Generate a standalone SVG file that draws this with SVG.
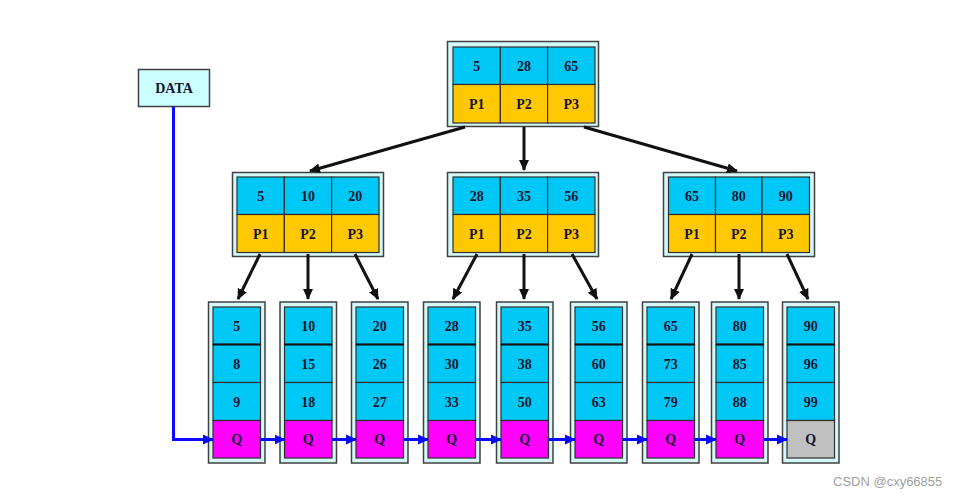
<svg xmlns="http://www.w3.org/2000/svg" width="960" height="498" viewBox="0 0 960 498">
<defs>
<style>
.outer{fill:#d4f8f8;stroke:#404040;stroke-width:1.5}
.k{fill:#00c8f6;stroke:#303030;stroke-width:1.2}
.p{fill:#ffc800;stroke:#303030;stroke-width:1.2}
.q{fill:#ff00ff;stroke:#303030;stroke-width:1.2}
.g{fill:#c0c0c0;stroke:#303030;stroke-width:1.2}
.sep{stroke:#111;stroke-width:2.2}
.t{font-family:"Liberation Serif","Times New Roman",serif;font-weight:bold;font-size:14px;fill:#141432;text-anchor:middle}
.data{fill:#ccffff;stroke:#404040;stroke-width:1.5}
.ba{stroke:#111;stroke-width:3;fill:none;marker-end:url(#ab)}
.bl{stroke:#0a0aff;stroke-width:3;fill:none;marker-end:url(#abl)}
</style>
<marker id="ab" markerUnits="userSpaceOnUse" markerWidth="12" markerHeight="12" refX="10" refY="5" orient="auto" viewBox="0 0 12 10">
<path d="M0,0 L11,5 L0,10 z" fill="#111"/>
</marker>
<marker id="abl" markerUnits="userSpaceOnUse" markerWidth="12" markerHeight="12" refX="10" refY="5" orient="auto" viewBox="0 0 12 10">
<path d="M0,0 L11,5 L0,10 z" fill="#0a0aff"/>
</marker>
</defs>
<rect width="960" height="498" fill="#ffffff"/>

<g id="data">
<rect class="data" x="138.5" y="69.5" width="71" height="37"/>
<text class="t" x="174" y="93" font-size="13">DATA</text>
</g>

<g id="root">
<rect class="outer" x="447.5" y="41.5" width="151" height="85"/>
<rect class="k" x="453" y="47" width="47.3" height="37.5"/><rect class="k" x="500.3" y="47" width="47.3" height="37.5"/><rect class="k" x="547.6" y="47" width="47.4" height="37.5"/>
<rect class="p" x="453" y="84.5" width="47.3" height="38.5"/><rect class="p" x="500.3" y="84.5" width="47.3" height="38.5"/><rect class="p" x="547.6" y="84.5" width="47.4" height="38.5"/>
<text class="t" x="476.7" y="71">5</text><text class="t" x="524" y="71">28</text><text class="t" x="571.3" y="71">65</text>
<text class="t" x="476.7" y="109">P1</text><text class="t" x="524" y="109">P2</text><text class="t" x="571.3" y="109">P3</text>
</g>

<g id="mid1">
<rect class="outer" x="232.5" y="172.5" width="151" height="84"/>
<rect class="k" x="237" y="177" width="47.3" height="37.5"/><rect class="k" x="284.3" y="177" width="47.3" height="37.5"/><rect class="k" x="331.6" y="177" width="47.4" height="37.5"/>
<rect class="p" x="237" y="214.5" width="47.3" height="38"/><rect class="p" x="284.3" y="214.5" width="47.3" height="38"/><rect class="p" x="331.6" y="214.5" width="47.4" height="38"/>
<text class="t" x="260.7" y="201">5</text><text class="t" x="308" y="201">10</text><text class="t" x="355.3" y="201">20</text>
<text class="t" x="260.7" y="238.5">P1</text><text class="t" x="308" y="238.5">P2</text><text class="t" x="355.3" y="238.5">P3</text>
</g>

<g id="mid2">
<rect class="outer" x="447.5" y="172.5" width="151" height="84"/>
<rect class="k" x="453" y="177" width="47.3" height="37.5"/><rect class="k" x="500.3" y="177" width="47.3" height="37.5"/><rect class="k" x="547.6" y="177" width="47.4" height="37.5"/>
<rect class="p" x="453" y="214.5" width="47.3" height="38"/><rect class="p" x="500.3" y="214.5" width="47.3" height="38"/><rect class="p" x="547.6" y="214.5" width="47.4" height="38"/>
<text class="t" x="476.7" y="201">28</text><text class="t" x="524" y="201">35</text><text class="t" x="571.3" y="201">56</text>
<text class="t" x="476.7" y="238.5">P1</text><text class="t" x="524" y="238.5">P2</text><text class="t" x="571.3" y="238.5">P3</text>
</g>

<g id="mid3">
<rect class="outer" x="663.5" y="172.5" width="151" height="84"/>
<rect class="k" x="668.5" y="177" width="47" height="37.5"/><rect class="k" x="715.5" y="177" width="46.5" height="37.5"/><rect class="k" x="762" y="177" width="47.5" height="37.5"/>
<rect class="p" x="668.5" y="214.5" width="47" height="38"/><rect class="p" x="715.5" y="214.5" width="46.5" height="38"/><rect class="p" x="762" y="214.5" width="47.5" height="38"/>
<text class="t" x="692" y="201">65</text><text class="t" x="738.7" y="201">80</text><text class="t" x="785.7" y="201">90</text>
<text class="t" x="692" y="238.5">P1</text><text class="t" x="738.7" y="238.5">P2</text><text class="t" x="785.7" y="238.5">P3</text>
</g>

<g id="leaf1" transform="translate(208,0)">
<rect class="outer" x="0.5" y="302" width="56.5" height="161"/>
<rect class="k" x="5" y="307" width="47.5" height="37.5"/><rect class="k" x="5" y="344.5" width="47.5" height="38"/><rect class="k" x="5" y="382.5" width="47.5" height="38"/><rect class="q" x="5" y="420.5" width="47.5" height="37.5"/>
<line class="sep" x1="5" y1="344.5" x2="52.5" y2="344.5"/>
<text class="t" x="28.75" y="330.5">5</text><text class="t" x="28.75" y="368.5">8</text><text class="t" x="28.75" y="406.5">9</text><text class="t" x="28.75" y="444">Q</text>
</g>
<g id="leaf2" transform="translate(279.5,0)">
<rect class="outer" x="0.5" y="302" width="56.5" height="161"/>
<rect class="k" x="5" y="307" width="47.5" height="37.5"/><rect class="k" x="5" y="344.5" width="47.5" height="38"/><rect class="k" x="5" y="382.5" width="47.5" height="38"/><rect class="q" x="5" y="420.5" width="47.5" height="37.5"/>
<line class="sep" x1="5" y1="344.5" x2="52.5" y2="344.5"/>
<text class="t" x="28.75" y="330.5">10</text><text class="t" x="28.75" y="368.5">15</text><text class="t" x="28.75" y="406.5">18</text><text class="t" x="28.75" y="444">Q</text>
</g>
<g id="leaf3" transform="translate(351,0)">
<rect class="outer" x="0.5" y="302" width="56.5" height="161"/>
<rect class="k" x="5" y="307" width="47.5" height="37.5"/><rect class="k" x="5" y="344.5" width="47.5" height="38"/><rect class="k" x="5" y="382.5" width="47.5" height="38"/><rect class="q" x="5" y="420.5" width="47.5" height="37.5"/>
<line class="sep" x1="5" y1="344.5" x2="52.5" y2="344.5"/>
<text class="t" x="28.75" y="330.5">20</text><text class="t" x="28.75" y="368.5">26</text><text class="t" x="28.75" y="406.5">27</text><text class="t" x="28.75" y="444">Q</text>
</g>
<g id="leaf4" transform="translate(423,0)">
<rect class="outer" x="0.5" y="302" width="56.5" height="161"/>
<rect class="k" x="5" y="307" width="47.5" height="37.5"/><rect class="k" x="5" y="344.5" width="47.5" height="38"/><rect class="k" x="5" y="382.5" width="47.5" height="38"/><rect class="q" x="5" y="420.5" width="47.5" height="37.5"/>
<line class="sep" x1="5" y1="344.5" x2="52.5" y2="344.5"/>
<text class="t" x="28.75" y="330.5">28</text><text class="t" x="28.75" y="368.5">30</text><text class="t" x="28.75" y="406.5">33</text><text class="t" x="28.75" y="444">Q</text>
</g>
<g id="leaf5" transform="translate(496,0)">
<rect class="outer" x="0.5" y="302" width="56.5" height="161"/>
<rect class="k" x="5" y="307" width="47.5" height="37.5"/><rect class="k" x="5" y="344.5" width="47.5" height="38"/><rect class="k" x="5" y="382.5" width="47.5" height="38"/><rect class="q" x="5" y="420.5" width="47.5" height="37.5"/>
<line class="sep" x1="5" y1="344.5" x2="52.5" y2="344.5"/>
<text class="t" x="28.75" y="330.5">35</text><text class="t" x="28.75" y="368.5">38</text><text class="t" x="28.75" y="406.5">50</text><text class="t" x="28.75" y="444">Q</text>
</g>
<g id="leaf6" transform="translate(570,0)">
<rect class="outer" x="0.5" y="302" width="56.5" height="161"/>
<rect class="k" x="5" y="307" width="47.5" height="37.5"/><rect class="k" x="5" y="344.5" width="47.5" height="38"/><rect class="k" x="5" y="382.5" width="47.5" height="38"/><rect class="q" x="5" y="420.5" width="47.5" height="37.5"/>
<line class="sep" x1="5" y1="344.5" x2="52.5" y2="344.5"/>
<text class="t" x="28.75" y="330.5">56</text><text class="t" x="28.75" y="368.5">60</text><text class="t" x="28.75" y="406.5">63</text><text class="t" x="28.75" y="444">Q</text>
</g>
<g id="leaf7" transform="translate(642,0)">
<rect class="outer" x="0.5" y="302" width="56.5" height="161"/>
<rect class="k" x="5" y="307" width="47.5" height="37.5"/><rect class="k" x="5" y="344.5" width="47.5" height="38"/><rect class="k" x="5" y="382.5" width="47.5" height="38"/><rect class="q" x="5" y="420.5" width="47.5" height="37.5"/>
<line class="sep" x1="5" y1="344.5" x2="52.5" y2="344.5"/>
<text class="t" x="28.75" y="330.5">65</text><text class="t" x="28.75" y="368.5">73</text><text class="t" x="28.75" y="406.5">79</text><text class="t" x="28.75" y="444">Q</text>
</g>
<g id="leaf8" transform="translate(711,0)">
<rect class="outer" x="0.5" y="302" width="56.5" height="161"/>
<rect class="k" x="5" y="307" width="47.5" height="37.5"/><rect class="k" x="5" y="344.5" width="47.5" height="38"/><rect class="k" x="5" y="382.5" width="47.5" height="38"/><rect class="q" x="5" y="420.5" width="47.5" height="37.5"/>
<line class="sep" x1="5" y1="344.5" x2="52.5" y2="344.5"/>
<text class="t" x="28.75" y="330.5">80</text><text class="t" x="28.75" y="368.5">85</text><text class="t" x="28.75" y="406.5">88</text><text class="t" x="28.75" y="444">Q</text>
</g>
<g id="leaf9" transform="translate(782,0)">
<rect class="outer" x="0.5" y="302" width="56.5" height="161"/>
<rect class="k" x="5" y="307" width="47.5" height="37.5"/><rect class="k" x="5" y="344.5" width="47.5" height="38"/><rect class="k" x="5" y="382.5" width="47.5" height="38"/><rect class="g" x="5" y="420.5" width="47.5" height="37.5"/>
<line class="sep" x1="5" y1="344.5" x2="52.5" y2="344.5"/>
<text class="t" x="28.75" y="330.5">90</text><text class="t" x="28.75" y="368.5">96</text><text class="t" x="28.75" y="406.5">99</text><text class="t" x="28.75" y="444">Q</text>
</g>

<g id="connectors">
<line class="ba" x1="465" y1="127" x2="310" y2="171"/>
<line class="ba" x1="524" y1="127" x2="524" y2="170"/>
<line class="ba" x1="584" y1="127" x2="737" y2="171"/>
<line class="ba" x1="260" y1="254" x2="238" y2="299"/>
<line class="ba" x1="308" y1="254" x2="308" y2="299"/>
<line class="ba" x1="355" y1="254" x2="378" y2="299"/>
<line class="ba" x1="477" y1="254" x2="453" y2="299"/>
<line class="ba" x1="524" y1="254" x2="524" y2="299"/>
<line class="ba" x1="572" y1="254" x2="597" y2="299"/>
<line class="ba" x1="692" y1="254" x2="671" y2="299"/>
<line class="ba" x1="739" y1="254" x2="739" y2="299"/>
<line class="ba" x1="787" y1="254" x2="808" y2="299"/>
<path class="bl" d="M173.5,107 V439.5 H213"/>
<line class="bl" x1="260.5" y1="439.5" x2="284.5" y2="439.5"/>
<line class="bl" x1="332" y1="439.5" x2="356" y2="439.5"/>
<line class="bl" x1="403.5" y1="439.5" x2="428" y2="439.5"/>
<line class="bl" x1="475.5" y1="439.5" x2="501" y2="439.5"/>
<line class="bl" x1="548.5" y1="439.5" x2="575" y2="439.5"/>
<line class="bl" x1="622.5" y1="439.5" x2="647" y2="439.5"/>
<line class="bl" x1="694.5" y1="439.5" x2="716" y2="439.5"/>
<line class="bl" x1="763.5" y1="439.5" x2="787" y2="439.5"/>
</g>

<text x="833" y="486" font-family="Liberation Sans, Arial, sans-serif" font-size="13" fill="#a0a0a0">CSDN @cxy66855</text>
</svg>
